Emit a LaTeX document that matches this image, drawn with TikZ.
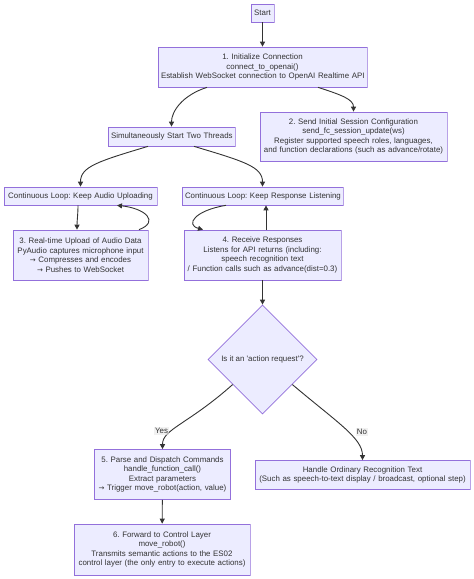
\documentclass[tikz,border=0pt]{standalone}
\usepackage{fontspec}
\setmainfont{Liberation Sans}
\newfontfamily\arrowfont{DejaVu Sans}
\usetikzlibrary{arrows.meta,shapes.geometric}
\definecolor{boxfill}{HTML}{ECECFF}
\definecolor{boxline}{HTML}{9370DB}
\definecolor{linec}{HTML}{333333}
\definecolor{txt}{HTML}{333333}
\definecolor{lblbg}{HTML}{E8E8E8}
\newcommand\diafont{\fontsize{7.9}{9.5}\selectfont\frenchspacing}
\newcommand\rarr{{\arrowfont\fontsize{7}{9.5}\selectfont →}}
\tikzset{
  stepbox/.style={draw=boxline, fill=boxfill, line width=0.7pt, inner xsep=3pt, inner ysep=0pt,
    align=center, font=\diafont, text=txt},
  decision/.style={diamond, aspect=1, draw=boxline, fill=boxfill, line width=0.7pt,
    minimum width=109pt, minimum height=109pt, inner sep=0pt, font=\diafont, text=txt},
  conn/.style={draw=linec, line width=0.9pt, -{Triangle[length=5pt,width=5pt]}},
  lbl/.style={font=\diafont, text=txt, fill=lblbg, fill opacity=0.6, text opacity=1, inner sep=1pt}
}
\newcommand\boxnode[6]{%
  \pgfmathsetmacro\tw{#4-6}%
  \begin{scope}
    \clip ({#2-#4/2-0.6},{#3-#5/2-0.6}) rectangle ({#2+#4/2+0.6},{#3+#5/2+0.6});
    \node[stepbox, minimum width=#4pt, minimum height=#5pt, text width=\tw pt] (#1) at (#2,#3) {#6};
  \end{scope}}
\begin{document}
\begin{tikzpicture}[x=1pt,y=-1pt]
\useasboundingbox[fill=white] (0,0) rectangle (474,579);

\boxnode{start}{262.5}{13}{23}{18}{\mbox{Start}}
\boxnode{n1}{262.5}{67}{209}{40}{\mbox{1. Initialize Connection}\\\mbox{connect\_to\_openai()}\\\mbox{Establish WebSocket connection to OpenAI Realtime API}}
\boxnode{n2}{353.5}{136.5}{187}{49}{\mbox{2. Send Initial Session Configuration}\\\mbox{send\_fc\_session\_update(ws)}\\\mbox{Register supported speech roles, languages,}\\\mbox{and function declarations (such as advance/rotate)}}
\boxnode{sim}{171.5}{136.5}{127}{19}{\mbox{Simultaneously Start Two Threads}}
\boxnode{al}{80.5}{196}{153}{18}{\mbox{Continuous Loop: Keep Audio Uploading}}
\boxnode{rl}{262.5}{196}{161}{18}{\mbox{Continuous Loop: Keep Response Listening}}
\boxnode{n3}{80.5}{255}{135}{50}{\mbox{3. Real-time Upload of Audio Data}\\\mbox{PyAudio captures microphone input}\\\mbox{\rarr{} Compresses and encodes}\\\mbox{\rarr{} Pushes to WebSocket}}
\boxnode{n4}{262.5}{255}{157}{50}{\mbox{4. Receive Responses}\\\mbox{Listens for API returns (including:}\\\mbox{speech recognition text}\\\mbox{/ Function calls such as advance(dist=0.3)}}
\node[decision] (d) at (262.5,359.5) {Is it an \textquotesingle action request\textquotesingle ?};
\boxnode{n5}{162.5}{474.5}{136}{50}{\mbox{5. Parse and Dispatch Commands}\\\mbox{handle\_function\_call()}\\\mbox{Extract parameters}\\\mbox{\rarr{} Trigger move\_robot(action, value)}}
\boxnode{h}{362.5}{475}{215}{29}{\mbox{Handle Ordinary Recognition Text}\\\mbox{(Such as speech-to-text display / broadcast, optional step)}}
\boxnode{n6}{162}{549.5}{176}{51}{\mbox{6. Forward to Control Layer}\\\mbox{move\_robot()}\\\mbox{Transmits semantic actions to the ES02}\\\mbox{control layer (the only entry to execute actions)}}

\draw[conn] (start) -- (n1);
\draw[conn] ([xshift=-55.5pt]n1.south) .. controls +(-25,8) and +(0,-15) .. (sim.north);
\draw[conn] ([xshift=55.5pt]n1.south) .. controls +(25,8) and +(0,-12) .. (n2.north);
\draw[conn] ([xshift=-23.5pt]sim.south) .. controls +(-50,15) and +(0,-20) .. (al.north);
\draw[conn] ([xshift=22.5pt]sim.south) .. controls +(50,15) and +(0,-20) .. (rl.north);
\draw[conn] ([xshift=-2.5pt]al.south) .. controls +(0,8) and +(0,-8) .. ([xshift=-3.5pt]n3.north);
\draw[conn] ([xshift=58.5pt]n3.north) .. controls +(21,-8) and +(28,3) .. ([xshift=36.5pt]al.south);
\draw[conn] ([xshift=-36.5pt]rl.south) .. controls +(-31,5) and +(-18,-5) .. ([xshift=-59.5pt]n4.north);
\draw[conn] ([xshift=3.5pt]n4.north) -- ([xshift=3.5pt]rl.south);
\draw[conn] (n4) -- (d);
\draw[conn] (d.-140) .. controls +(-45,40) and +(0,-20) .. (n5.north);
\draw[conn] (d.-40) .. controls +(45,38) and +(0,-22) .. (h.north);
\draw[conn] (n5) -- (n6);
\node[lbl] (yes) at (161.5,431) {Yes};
\node[lbl] (no) at (362,432) {No};
\end{tikzpicture}
\end{document}
